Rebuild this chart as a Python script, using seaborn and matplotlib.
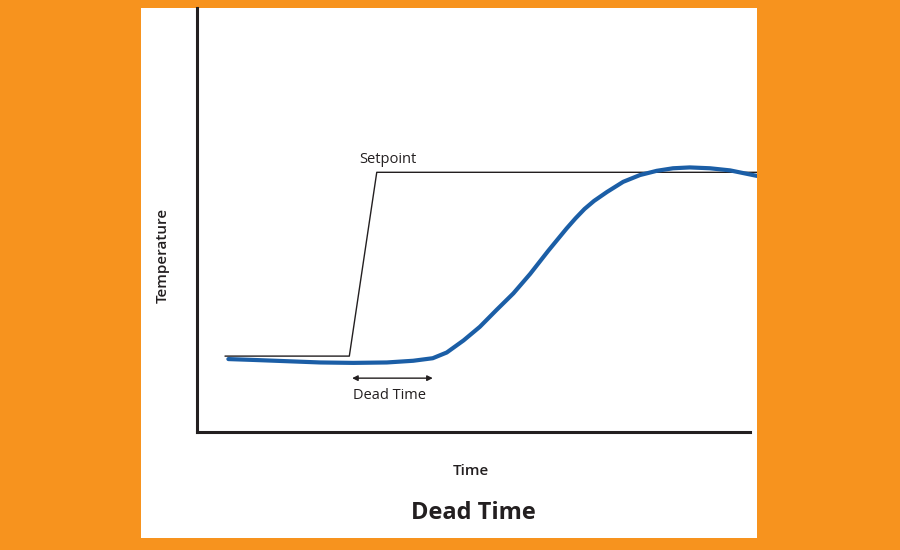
import numpy as np
import pandas as pd
import matplotlib
matplotlib.use("Agg")
import matplotlib.pyplot as plt
from matplotlib.patches import Rectangle
import seaborn as sns

# Setpoint step (time, temperature)
setpoint_time = [5.0, 27.2, 32.1, 100.0]
setpoint_temp = [17.9, 17.9, 61.25, 61.25]

# Process response
response_time = [5.6, 10.0, 16.0, 22.0, 27.9, 33.9, 38.6, 42.1, 44.6, 47.6, 50.5,
                 53.5, 56.5, 59.5, 62.7, 66.0, 67.6, 69.2, 70.9, 73.2, 76.1, 79.1,
                 82.1, 85.0, 88.0, 91.6, 95.2, 100.0]
response_temp = [17.2, 17.0, 16.7, 16.4, 16.3, 16.4, 16.8, 17.4, 18.75, 21.6, 24.8,
                 28.8, 32.7, 37.3, 42.7, 48.0, 50.4, 52.6, 54.5, 56.6, 59.0, 60.6,
                 61.6, 62.2, 62.4, 62.2, 61.7, 60.4]

dead_time_start = 27.7
dead_time_end = 42.1

ORANGE = "#F7931E"
BLUE = "#1B5EA6"
INK = "#231F20"

sns.set_theme(style="white")
plt.rcParams["font.family"] = ["Open Sans", "DejaVu Sans"]

fig = plt.figure(figsize=(9, 5.5), dpi=100)
fig.patch.set_facecolor(ORANGE)
# white card behind the chart
fig.patches.append(Rectangle((141 / 900, 1 - 538 / 550), 616 / 900, 530 / 550,
                             transform=fig.transFigure, facecolor="white",
                             edgecolor="none", zorder=-5))

ax = fig.add_axes([197 / 900, 1 - 432 / 550, 560 / 900, 424 / 550])
ax.set_facecolor("none")
ax.set_zorder(2)

sp = pd.DataFrame({"time": setpoint_time, "temp": setpoint_temp})
resp = pd.DataFrame({"time": response_time, "temp": response_temp})

sns.lineplot(data=sp, x="time", y="temp", ax=ax, color=INK, linewidth=1.0,
             sort=False, estimator=None)
sns.lineplot(data=resp, x="time", y="temp", ax=ax, color=BLUE, linewidth=3.0,
             sort=False, estimator=None, solid_joinstyle="round",
             solid_capstyle="round")

ax.set_xlim(0, 100)
ax.set_ylim(0, 100)
ax.set_xticks([])
ax.set_yticks([])

for side in ["top", "right"]:
    ax.spines[side].set_visible(False)
for side in ["left", "bottom"]:
    ax.spines[side].set_color(INK)
    ax.spines[side].set_linewidth(2.2)
ax.spines["bottom"].set_bounds(0, 98.75)

# dead time arrow and labels
ax.annotate("", xy=(dead_time_start, 12.7), xytext=(dead_time_end, 12.7),
            arrowprops=dict(arrowstyle="<|-|>", color=INK, lw=1.0,
                            mutation_scale=8, shrinkA=0, shrinkB=0))
ax.text(34.3, 8.7, "Dead Time", ha="center", va="center", fontsize=10.5, color=INK)
ax.text(34.1, 64.2, "Setpoint", ha="center", va="center", fontsize=10.5, color=INK)

ax.set_xlabel("Time", fontsize=11, fontweight="semibold", color=INK, va="center")
ax.xaxis.set_label_coords(0.489, -0.092)
ax.set_ylabel("Temperature", fontsize=11, fontweight="semibold", color=INK, va="center")
ax.yaxis.set_label_coords(-0.0607, 0.417)

fig.text(473 / 900, 1 - 513 / 550, "Dead Time", ha="center", va="center",
         fontsize=17, fontweight="bold", color=INK)

fig.savefig("out.png", dpi=100, facecolor=fig.get_facecolor())
